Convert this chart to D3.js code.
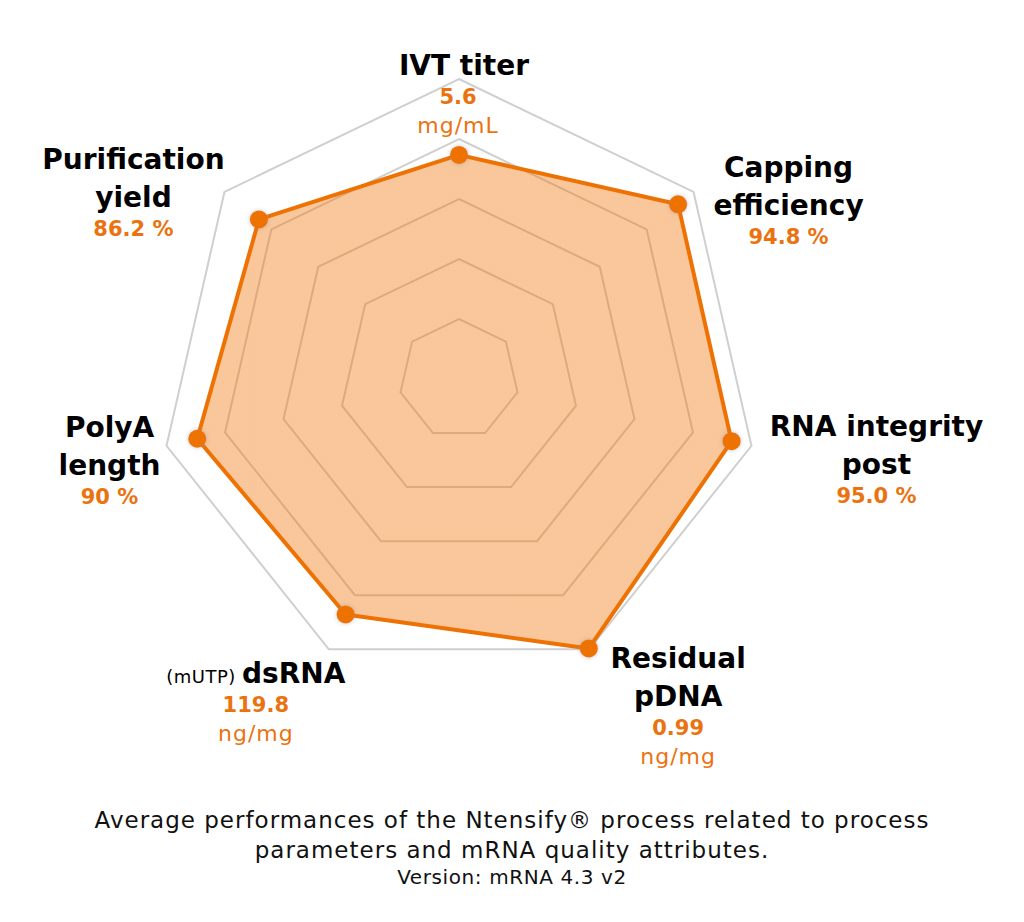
<!DOCTYPE html>
<meta charset="utf-8">
<style>
  body { margin: 0; background: #fff; }
  text { font-family: "DejaVu Sans", "Noto Sans", sans-serif; }
  .ring { fill: none; stroke: #cfcfcf; stroke-width: 2px; }
  .area { stroke: #ee7203; stroke-width: 4px; stroke-linejoin: round; }
  .title { font-weight: 700; font-size: 28px; fill: #000; }
  .value { font-weight: 700; font-size: 21px; fill: #ea7310; }
  .unit { font-size: 22px; fill: #ea7310; letter-spacing: 1px; }
  .caption { font-size: 23px; fill: #111; letter-spacing: 1px; }
</style>
<body>
<script src="https://d3js.org/d3.v7.min.js"></script>
<script>

// axes, clockwise from the top
var axisTitles = [
  ["IVT titer"],
  ["Capping", "efficiency"],
  ["RNA integrity", "post"],
  ["Residual", "pDNA"],
  ["dsRNA"],
  ["PolyA", "length"],
  ["Purification", "yield"]
];
var axisPrefix = ["", "", "", "", "(mUTP) ", "", ""];
var valueLabels = ["5.6", "94.8 %", "95.0 %", "0.99", "119.8", "90 %", "86.2 %"];
var unitLabels = ["mg/mL", "", "", "ng/mg", "ng/mg", "", ""];
// relative score (0-100)
var scores = [74.7, 93.4, 93.2, 99.7, 87.1, 89.5, 85.3];
var gridLevels = [20, 40, 60, 80, 100];
var captionLines = [
  "Average performances of the Ntensify\u00ae process related to process",
  "parameters and mRNA quality attributes."
];
var versionText = "Version: mRNA 4.3 v2";

var width = 1024, height = 922;
var cx = 459, cy = 379, radius = 300;

// label offsets from the outer vertex of each axis
var labelOffset = [[5, -4], [95, -15], [125, -10], [89, 19], [-73, 34], [-57, -9], [-91, -23]];

var svg = d3.select("body").append("svg")
    .attr("width", width)
    .attr("height", height);

var defs = svg.append("defs");
var grad = defs.append("radialGradient")
    .attr("id", "fillGrad")
    .attr("gradientUnits", "userSpaceOnUse")
    .attr("cx", cx).attr("cy", cy).attr("r", radius);
grad.append("stop").attr("offset", "0%").attr("stop-color", "#ee7203").attr("stop-opacity", 0.22);
grad.append("stop").attr("offset", "100%").attr("stop-color", "#ee7203").attr("stop-opacity", 0.4);

var shadow = defs.append("filter").attr("id", "dotShadow")
    .attr("x", "-50%").attr("y", "-50%").attr("width", "200%").attr("height", "200%");
shadow.append("feDropShadow")
    .attr("dx", 0).attr("dy", 0).attr("stdDeviation", 2)
    .attr("flood-color", "#888").attr("flood-opacity", 0.5);

var r = d3.scaleLinear().domain([0, 100]).range([0, radius]);
var n = axisTitles.length;
var angle = d3.scaleLinear().domain([0, n]).range([0, 2 * Math.PI]);

var radial = d3.lineRadial()
    .angle(function(d, i) { return angle(i); })
    .radius(function(d) { return r(d); })
    .curve(d3.curveLinearClosed);

function point(i, v) {
  var a = angle(i);
  return [cx + r(v) * Math.sin(a), cy - r(v) * Math.cos(a)];
}

var g = svg.append("g").attr("transform", "translate(" + cx + "," + cy + ")");

// grid rings
g.selectAll(".ring")
  .data(gridLevels)
  .enter().append("path")
    .attr("class", "ring")
    .attr("d", function(lv) { return radial(d3.range(n).map(function() { return lv; })); });

// data area
g.append("path")
    .datum(scores)
    .attr("class", "area")
    .attr("fill", "url(#fillGrad)")
    .attr("d", radial);

// dots
svg.selectAll(".dot")
  .data(scores)
  .enter().append("circle")
    .attr("class", "dot")
    .attr("cx", function(d, i) { return point(i, d)[0]; })
    .attr("cy", function(d, i) { return point(i, d)[1]; })
    .attr("r", 9)
    .attr("fill", "#ee7203")
    .attr("filter", "url(#dotShadow)");

// axis labels
axisTitles.forEach(function(lines, i) {
  var p = point(i, 100);
  var x = p[0] + labelOffset[i][0];
  var y = p[1] + labelOffset[i][1];
  var t = svg.append("g").attr("text-anchor", "middle");
  lines.forEach(function(line, k) {
    var txt = t.append("text")
        .attr("class", "title")
        .attr("x", x)
        .attr("y", y + k * 38);
    if (k === 0 && axisPrefix[i]) {
      txt.append("tspan")
          .style("font-weight", 400)
          .style("font-size", "18px")
          .style("letter-spacing", "0.5px")
          .text(axisPrefix[i]);
    }
    txt.append("tspan").text(line);
  });
  var vy = y + (lines.length - 1) * 38 + 29;
  t.append("text")
      .attr("class", "value")
      .attr("x", x - (i === 0 ? 6 : 0))
      .attr("y", vy)
      .text(valueLabels[i]);
  if (unitLabels[i]) {
    t.append("text")
        .attr("class", "unit")
        .attr("x", x - (i === 0 ? 6 : 0))
        .attr("y", vy + 29)
        .text(unitLabels[i]);
  }
});

// caption
svg.selectAll(".caption")
  .data(captionLines)
  .enter().append("text")
    .attr("class", "caption")
    .attr("text-anchor", "middle")
    .attr("x", width / 2)
    .attr("y", function(d, i) { return 828 + i * 30; })
    .text(function(d) { return d; });

svg.append("text")
    .attr("class", "caption")
    .attr("text-anchor", "middle")
    .style("font-size", "20px")
    .style("letter-spacing", "0.6px")
    .attr("x", width / 2)
    .attr("y", 884)
    .text(versionText);

</script>
</body>
